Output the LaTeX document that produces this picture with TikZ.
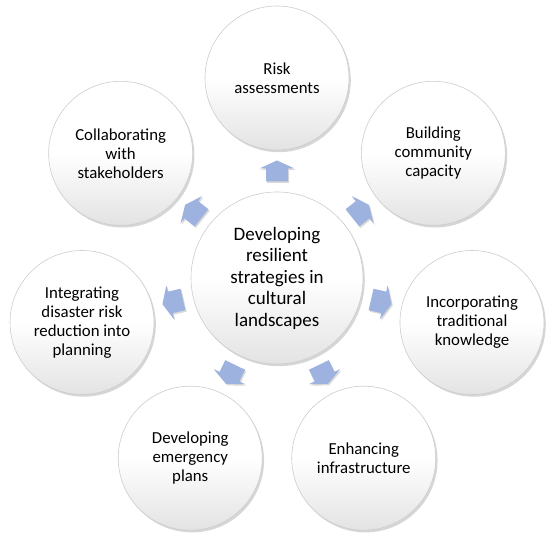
\documentclass[tikz,border=0pt]{standalone}
\usepackage{fontspec}
\setmainfont{Carlito}
\usetikzlibrary{shadows,calc}
\definecolor{arrowblue}{RGB}{157,178,222}
\definecolor{rimgray}{RGB}{205,205,205}
\tikzset{
  bubble/.style={circle, inner sep=0pt, align=center, draw=rimgray, line width=0.6pt,
    top color=white, bottom color=black!11, middle color=white,
    drop shadow={shadow xshift=1.8pt, shadow yshift=-2.2pt, opacity=0.16, fill=black}},
  hub/.style={bubble, minimum size=172pt, font=\fontsize{19}{21.5}\selectfont},
  spoke/.style={bubble, minimum size=144pt, font=\fontsize{16.8}{19}\selectfont},
  flowarrow/.style={fill=arrowblue, draw=none,
    drop shadow={shadow xshift=1.2pt, shadow yshift=-1.5pt, opacity=0.15, fill=black}},
  pics/flowarr/.style={code={
    \fill[flowarrow] (0,10.5) -- (17.5,2.5) -- (11,2.5) -- (11,-10.5)
      -- (-11,-10.5) -- (-11,2.5) -- (-17.5,2.5) -- cycle;}}
}
\begin{document}
\begin{tikzpicture}[x=1pt,y=1pt]
\useasboundingbox (0,0) rectangle (550,540);
\coordinate (o) at (277,262);
\node[hub] (c) at (o) {Developing\\resilient\\strategies in\\cultural\\landscapes};
\foreach \i/\a/\t in {
  1/90/{Risk\\assessments},
  2/38.57/{Building\\community\\capacity},
  3/-12.86/{Incorporating\\traditional\\knowledge},
  4/-64.29/{Enhancing\\infrastructure},
  5/-115.71/{Developing\\emergency\\plans},
  6/-167.14/{Integrating\\disaster risk\\reduction into\\planning},
  7/141.43/{Collaborating\\with\\stakeholders}}
{
  \node[spoke] (n\i) at ($(o)+(\a:200)$) {\t};
  \pic[rotate=\a-90] at ($(c)!107pt!(n\i)$) {flowarr};
}
\end{tikzpicture}
\end{document}
